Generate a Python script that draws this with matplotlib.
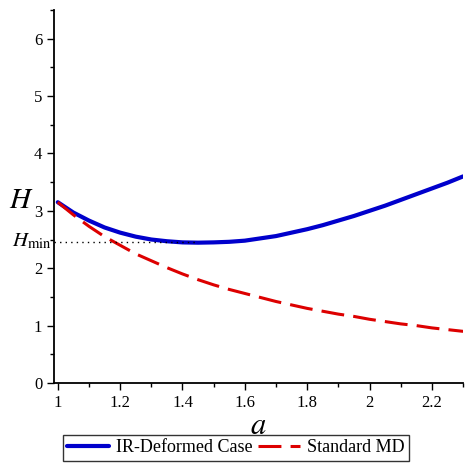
import numpy as np
import matplotlib.pyplot as plt

plt.rcParams['font.family'] = ['Liberation Serif', 'DejaVu Serif']
plt.rcParams['mathtext.fontset'] = 'stix'

a_vals = [1.0, 1.05, 1.1, 1.15, 1.2, 1.25, 1.3, 1.35, 1.4, 1.45, 1.5, 1.55, 1.6, 1.65,
          1.7, 1.75, 1.8, 1.85, 1.9, 1.95, 2.0, 2.05, 2.1, 2.15, 2.2, 2.25, 2.3]
h_ir = [3.15, 2.97, 2.83, 2.71, 2.62, 2.55, 2.50, 2.47, 2.45, 2.445, 2.45, 2.46, 2.48, 2.52,
        2.56, 2.62, 2.68, 2.75, 2.83, 2.91, 3.00, 3.09, 3.19, 3.29, 3.39, 3.49, 3.60]
h_md = [3.15, 2.93, 2.73, 2.55, 2.40, 2.25, 2.13, 2.01, 1.90, 1.80, 1.71, 1.63, 1.56, 1.49,
        1.42, 1.36, 1.30, 1.25, 1.20, 1.16, 1.11, 1.07, 1.03, 1.00, 0.96, 0.93, 0.90]
h_min = 2.46

fig = plt.figure(figsize=(4.74, 4.74), dpi=100)
ax = fig.add_axes([0.114, 0.192, 0.863, 0.787])

ax.plot(a_vals, h_ir, color='#0000cc', lw=3, label='IR-Deformed Case', solid_capstyle='round')
ax.plot(a_vals, h_md, color='#dd0000', lw=2.2, ls=(0, (7.5, 3)), label='Standard MD')
ax.plot([0.988, 1.45], [h_min, h_min], color='black', lw=1, ls=(0, (1, 3)))

ax.set_xlim(0.988, 2.3)
ax.set_ylim(0, 6.5)
ax.set_xticks([1, 1.2, 1.4, 1.6, 1.8, 2, 2.2])
ax.set_xticklabels(['1', '1.2', '1.4', '1.6', '1.8', '2', '2.2'])
ax.set_xticks(np.arange(1.1, 2.31, 0.2), minor=True)
ax.set_yticks([0, 1, 2, 3, 4, 5, 6])
ax.set_yticks([0.5, 1.5, 2.5, 3.5, 4.5, 5.5, 6.5], minor=True)
ax.tick_params(axis='both', which='major', labelsize=12, length=5, width=1)
ax.tick_params(axis='both', which='minor', length=3, width=1)
for s in ['top', 'right']:
    ax.spines[s].set_visible(False)
for s in ['left', 'bottom']:
    ax.spines[s].set_linewidth(1.3)

fig.text(0.045, 0.575, '$H$', fontsize=21, ha='center', va='center')
fig.text(0.025, 0.49, r'$H_{\mathrm{min}}$', fontsize=15, ha='left', va='center')
fig.text(0.545, 0.1, '$a$', fontsize=22, ha='center', va='center')

ax.legend(loc='upper center', bbox_to_anchor=(0.445, -0.139), ncol=2, frameon=True,
          fancybox=False, edgecolor='black', fontsize=13, handlelength=2.3,
          columnspacing=0.3, handletextpad=0.4, borderpad=0.25, borderaxespad=0)

fig.savefig('out.png', dpi=100)
